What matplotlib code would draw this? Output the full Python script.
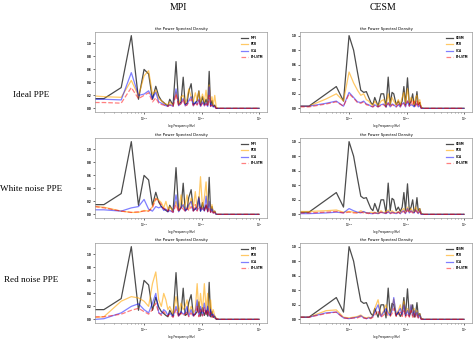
import numpy as np
import matplotlib
matplotlib.use("Agg")
import matplotlib.pyplot as plt

# frequency grid (Hz), shared by every curve
freq = [0.0014, 0.002, 0.004, 0.006, 0.008, 0.010, 0.012, 0.014, 0.016, 0.018,
        0.020, 0.022, 0.024, 0.026, 0.028, 0.032, 0.036, 0.040, 0.044, 0.048,
        0.052, 0.056, 0.060, 0.066, 0.072, 0.078, 0.084, 0.090, 0.096, 0.104,
        0.112, 0.120, 0.128, 0.136, 0.144, 0.152, 0.160, 0.170, 0.180, 0.200, 1.0]

# "truth" spectra, same in every row
mpi_psd = [0.15, 0.15, 0.32, 1.12, 0.14, 0.60, 0.53, 0.14, 0.34, 0.19,
           0.12, 0.09, 0.06, 0.04, 0.14, 0.05, 0.72, 0.06, 0.10, 0.48,
           0.06, 0.08, 0.26, 0.38, 0.06, 0.08, 0.12, 0.27, 0.05, 0.18,
           0.06, 0.14, 0.05, 0.57, 0.04, 0.12, 0.03, 0.05, 0.0, 0.0, 0.0]
cesm_psd = [0.03, 0.03, 0.20, 0.30, 0.10, 1.00, 0.80, 0.50, 0.25, 0.22,
            0.23, 0.15, 0.08, 0.05, 0.15, 0.03, 0.20, 0.20, 0.02, 0.43,
            0.05, 0.22, 0.20, 0.05, 0.10, 0.04, 0.10, 0.30, 0.05, 0.42,
            0.05, 0.10, 0.20, 0.03, 0.08, 0.23, 0.05, 0.08, 0.01, 0.0, 0.0]

# Ideal PPE
ideal_mpi_pcr = [0.19, 0.18, 0.17, 0.43, 0.19, 0.50, 0.58, 0.22, 0.28, 0.15,
                 0.12, 0.08, 0.07, 0.05, 0.10, 0.04, 0.25, 0.05, 0.18, 0.20,
                 0.08, 0.15, 0.30, 0.18, 0.10, 0.24, 0.12, 0.26, 0.08, 0.22,
                 0.10, 0.28, 0.06, 0.36, 0.10, 0.18, 0.05, 0.20, 0.02, 0.0, 0.0]
ideal_mpi_cca = [0.14, 0.14, 0.13, 0.55, 0.20, 0.22, 0.27, 0.15, 0.25, 0.10,
                 0.08, 0.06, 0.04, 0.03, 0.06, 0.03, 0.30, 0.04, 0.08, 0.15,
                 0.04, 0.06, 0.12, 0.18, 0.04, 0.10, 0.06, 0.14, 0.03, 0.10,
                 0.04, 0.08, 0.03, 0.33, 0.03, 0.06, 0.02, 0.03, 0.0, 0.0, 0.0]
ideal_mpi_lstm = [0.09, 0.09, 0.08, 0.32, 0.15, 0.20, 0.24, 0.10, 0.16, 0.08,
                  0.06, 0.05, 0.04, 0.03, 0.05, 0.03, 0.22, 0.04, 0.07, 0.14,
                  0.04, 0.05, 0.10, 0.14, 0.04, 0.08, 0.05, 0.12, 0.03, 0.08,
                  0.04, 0.07, 0.03, 0.20, 0.03, 0.05, 0.02, 0.03, 0.0, 0.0, 0.0]
ideal_cesm_pcr = [0.03, 0.03, 0.13, 0.20, 0.10, 0.50, 0.35, 0.25, 0.18, 0.20,
                  0.12, 0.10, 0.06, 0.04, 0.10, 0.03, 0.10, 0.12, 0.03, 0.20,
                  0.05, 0.15, 0.10, 0.05, 0.12, 0.05, 0.15, 0.22, 0.06, 0.27,
                  0.08, 0.15, 0.10, 0.05, 0.15, 0.18, 0.06, 0.12, 0.01, 0.0, 0.0]
ideal_cesm_cca = [0.03, 0.03, 0.07, 0.10, 0.03, 0.22, 0.15, 0.09, 0.08, 0.10,
                  0.06, 0.05, 0.03, 0.02, 0.05, 0.02, 0.05, 0.06, 0.02, 0.08,
                  0.02, 0.06, 0.05, 0.02, 0.05, 0.02, 0.06, 0.08, 0.02, 0.10,
                  0.03, 0.05, 0.04, 0.02, 0.05, 0.06, 0.02, 0.04, 0.0, 0.0, 0.0]
ideal_cesm_lstm = [0.02, 0.02, 0.06, 0.09, 0.03, 0.20, 0.14, 0.08, 0.07, 0.09,
                   0.05, 0.04, 0.03, 0.02, 0.04, 0.02, 0.04, 0.05, 0.02, 0.07,
                   0.02, 0.05, 0.04, 0.02, 0.06, 0.02, 0.08, 0.06, 0.03, 0.10,
                   0.03, 0.10, 0.04, 0.10, 0.03, 0.10, 0.02, 0.08, 0.0, 0.0, 0.0]

# White noise PPE
white_mpi_pcr = [0.12, 0.11, 0.05, 0.03, 0.03, 0.06, 0.05, 0.12, 0.25, 0.22,
                 0.18, 0.10, 0.20, 0.08, 0.12, 0.05, 0.20, 0.05, 0.30, 0.10,
                 0.15, 0.30, 0.08, 0.25, 0.10, 0.35, 0.08, 0.20, 0.58, 0.10,
                 0.25, 0.50, 0.08, 0.20, 0.05, 0.15, 0.03, 0.05, 0.0, 0.0, 0.0]
white_mpi_cca = [0.07, 0.07, 0.05, 0.10, 0.12, 0.23, 0.08, 0.05, 0.12, 0.10,
                 0.12, 0.06, 0.08, 0.04, 0.06, 0.03, 0.30, 0.04, 0.10, 0.15,
                 0.05, 0.08, 0.15, 0.20, 0.05, 0.10, 0.06, 0.25, 0.05, 0.10,
                 0.05, 0.28, 0.04, 0.20, 0.03, 0.08, 0.02, 0.03, 0.0, 0.0, 0.0]
white_mpi_lstm = [0.12, 0.10, 0.05, 0.03, 0.04, 0.05, 0.05, 0.10, 0.24, 0.20,
                  0.15, 0.08, 0.10, 0.05, 0.08, 0.03, 0.15, 0.04, 0.12, 0.08,
                  0.05, 0.10, 0.06, 0.12, 0.05, 0.15, 0.05, 0.12, 0.10, 0.08,
                  0.05, 0.15, 0.04, 0.10, 0.03, 0.06, 0.02, 0.03, 0.0, 0.0, 0.0]
white_cesm_pcr = [0.04, 0.04, 0.05, 0.06, 0.03, 0.04, 0.03, 0.02, 0.05, 0.03,
                  0.02, 0.02, 0.03, 0.02, 0.03, 0.01, 0.05, 0.02, 0.04, 0.06,
                  0.02, 0.05, 0.03, 0.02, 0.04, 0.02, 0.06, 0.08, 0.02, 0.10,
                  0.03, 0.08, 0.04, 0.03, 0.10, 0.06, 0.02, 0.08, 0.01, 0.0, 0.0]
white_cesm_cca = [0.01, 0.01, 0.02, 0.03, 0.02, 0.08, 0.05, 0.03, 0.02, 0.04,
                  0.02, 0.02, 0.01, 0.01, 0.02, 0.01, 0.03, 0.02, 0.01, 0.04,
                  0.01, 0.03, 0.02, 0.01, 0.03, 0.01, 0.04, 0.05, 0.01, 0.08,
                  0.02, 0.05, 0.03, 0.02, 0.06, 0.04, 0.01, 0.05, 0.0, 0.0, 0.0]
white_cesm_lstm = [0.02, 0.02, 0.03, 0.04, 0.02, 0.03, 0.02, 0.02, 0.03, 0.02,
                   0.02, 0.01, 0.02, 0.01, 0.02, 0.01, 0.03, 0.01, 0.02, 0.03,
                   0.01, 0.02, 0.02, 0.01, 0.03, 0.01, 0.03, 0.04, 0.01, 0.06,
                   0.02, 0.04, 0.02, 0.02, 0.05, 0.03, 0.01, 0.04, 0.0, 0.0, 0.0]

# Red noise PPE
red_mpi_pcr = [0.03, 0.04, 0.28, 0.35, 0.33, 0.28, 0.20, 0.55, 0.73, 0.30,
               0.20, 0.40, 0.30, 0.15, 0.20, 0.08, 0.35, 0.10, 0.25, 0.15,
               0.20, 0.30, 0.10, 0.20, 0.10, 0.15, 0.55, 0.10, 0.40, 0.12,
               0.55, 0.15, 0.40, 0.10, 0.30, 0.08, 0.15, 0.05, 0.02, 0.0, 0.0]
red_mpi_cca = [0.0, 0.01, 0.10, 0.20, 0.24, 0.15, 0.10, 0.25, 0.40, 0.10,
               0.08, 0.15, 0.12, 0.06, 0.10, 0.04, 0.20, 0.05, 0.12, 0.08,
               0.10, 0.20, 0.05, 0.15, 0.05, 0.10, 0.30, 0.05, 0.20, 0.06,
               0.25, 0.08, 0.20, 0.05, 0.15, 0.04, 0.08, 0.03, 0.01, 0.0, 0.0]
red_mpi_lstm = [0.04, 0.04, 0.08, 0.14, 0.17, 0.12, 0.08, 0.15, 0.25, 0.10,
                0.06, 0.12, 0.08, 0.05, 0.08, 0.03, 0.15, 0.04, 0.10, 0.06,
                0.08, 0.12, 0.04, 0.10, 0.04, 0.08, 0.20, 0.04, 0.15, 0.05,
                0.18, 0.06, 0.15, 0.04, 0.10, 0.03, 0.06, 0.02, 0.01, 0.0, 0.0]
red_cesm_pcr = [0.03, 0.03, 0.12, 0.13, 0.03, 0.02, 0.03, 0.04, 0.06, 0.03,
                0.02, 0.03, 0.02, 0.05, 0.15, 0.27, 0.05, 0.12, 0.20, 0.10,
                0.08, 0.15, 0.28, 0.08, 0.12, 0.20, 0.08, 0.25, 0.06, 0.15,
                0.05, 0.20, 0.06, 0.15, 0.05, 0.12, 0.03, 0.08, 0.01, 0.0, 0.0]
red_cesm_cca = [0.03, 0.03, 0.09, 0.10, 0.02, 0.01, 0.02, 0.03, 0.05, 0.02,
                0.01, 0.02, 0.02, 0.04, 0.10, 0.20, 0.04, 0.10, 0.15, 0.08,
                0.06, 0.12, 0.30, 0.06, 0.10, 0.15, 0.06, 0.20, 0.05, 0.12,
                0.04, 0.20, 0.05, 0.12, 0.04, 0.10, 0.02, 0.06, 0.0, 0.0, 0.0]
red_cesm_lstm = [0.03, 0.03, 0.08, 0.10, 0.02, 0.01, 0.02, 0.02, 0.04, 0.02,
                 0.01, 0.02, 0.01, 0.03, 0.06, 0.12, 0.03, 0.06, 0.10, 0.05,
                 0.04, 0.08, 0.15, 0.04, 0.06, 0.10, 0.04, 0.12, 0.03, 0.08,
                 0.03, 0.12, 0.03, 0.08, 0.03, 0.06, 0.02, 0.04, 0.0, 0.0, 0.0]

row_names = ["Ideal PPE", "White noise PPE", "Red noise PPE"]
col_names = ["MPI", "CESM"]

panels = [
    [(mpi_psd, ideal_mpi_pcr, ideal_mpi_cca, ideal_mpi_lstm),
     (cesm_psd, ideal_cesm_pcr, ideal_cesm_cca, ideal_cesm_lstm)],
    [(mpi_psd, white_mpi_pcr, white_mpi_cca, white_mpi_lstm),
     (cesm_psd, white_cesm_pcr, white_cesm_cca, white_cesm_lstm)],
    [(mpi_psd, red_mpi_pcr, red_mpi_cca, red_mpi_lstm),
     (cesm_psd, red_cesm_pcr, red_cesm_cca, red_cesm_lstm)],
]

fig = plt.figure(figsize=(4.74, 3.39), dpi=100)

lefts = [95 / 474, 300 / 474]
bottoms = [1 - 112 / 339, 1 - 218 / 339, 1 - 323 / 339]
w, h = 172 / 474, 80 / 339

for r in range(3):
    for c in range(2):
        ax = fig.add_axes([lefts[c], bottoms[r], w, h])
        truth, pcr, cca, lstm = panels[r][c]
        f = np.array(freq)
        ax.plot(f, truth, color="k", alpha=0.7, lw=0.9, label=col_names[c])
        ax.plot(f, pcr, color="orange", alpha=0.6, lw=0.9, label="PCR")
        ax.plot(f, cca, color="b", alpha=0.5, lw=0.9, label="CCA")
        ax.plot(f, lstm, color="r", ls="--", alpha=0.5, lw=0.9, label="Bi-LSTM")
        ax.set_xscale("log")
        ax.set_xlim(0.0014, 1.38)
        ax.set_yticks([0.0, 0.2, 0.4, 0.6, 0.8, 1.0])
        ax.set_title("the Power Spectral Density", fontsize=2.8, pad=1.5)
        ax.set_xlabel("log Frequency(Hz)", fontsize=2.2, labelpad=1.0)
        ax.tick_params(labelsize=2.0, length=1.2, width=0.4, pad=1)
        ax.tick_params(which="minor", length=0.7, width=0.3)
        for lab in ax.get_yticklabels():
            lab.set_fontweight("bold")
        for sp in ax.spines.values():
            sp.set_color("0.6")
            sp.set_linewidth(0.5)
        ax.legend(loc="upper right", frameon=False,
                  prop={"size": 2.0, "weight": "bold"},
                  handlelength=2.5, labelspacing=0.9, borderaxespad=1.0)

for c in range(2):
    x = lefts[c] + w / 2 - 3 / 474
    fig.text(x, 1 - 7 / 339, col_names[c], ha="center", va="center",
             family="Liberation Serif", fontsize=7)

row_y = [95, 189, 280]
for r in range(3):
    fig.text(31 / 474, 1 - row_y[r] / 339, row_names[r], ha="center",
             va="center", family="Liberation Serif", fontsize=6.6)

fig.savefig("out.png", dpi=100)
